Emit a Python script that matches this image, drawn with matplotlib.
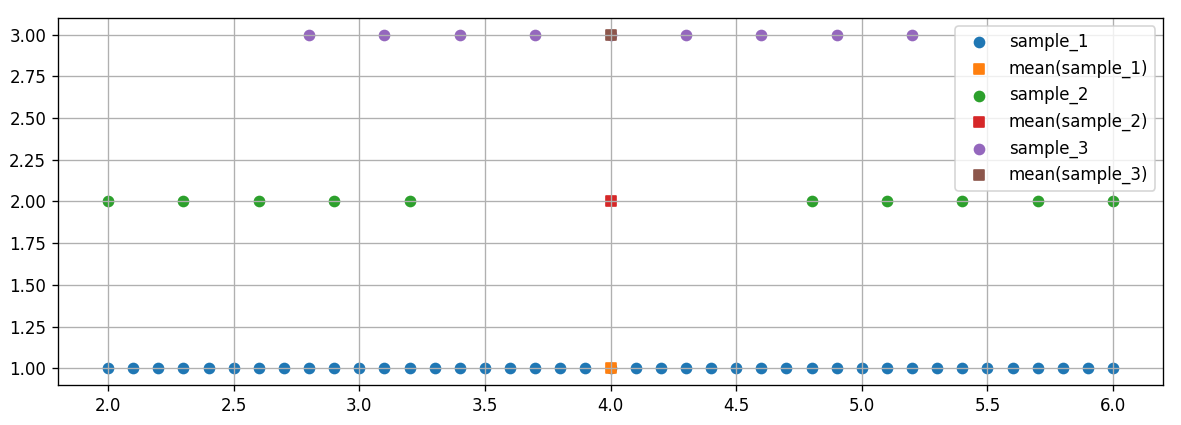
import numpy as np
import matplotlib.pyplot as plt

sample_1 = [round(2.0 + 0.1 * i, 1) for i in range(41)]
sample_2 = [2.0, 2.3, 2.6, 2.9, 3.2, 4.8, 5.1, 5.4, 5.7, 6.0]
sample_3 = [2.8, 3.1, 3.4, 3.7, 4.0, 4.3, 4.6, 4.9, 5.2]
samples = [sample_1, sample_2, sample_3]
names = ['sample_1', 'sample_2', 'sample_3']

fig = plt.figure(figsize=(1181 / 120, 425 / 120), dpi=120)
ax = fig.add_axes([0.049, 0.094, 0.936, 0.864])

for i, (s, name) in enumerate(zip(samples, names)):
    level = i + 1
    ax.scatter(s, [level] * len(s), label=name)
    ax.scatter([np.mean(s)], [level], marker='s', label='mean(%s)' % name)

ax.grid()
ax.legend(loc='best')
fig.savefig('out.png')
